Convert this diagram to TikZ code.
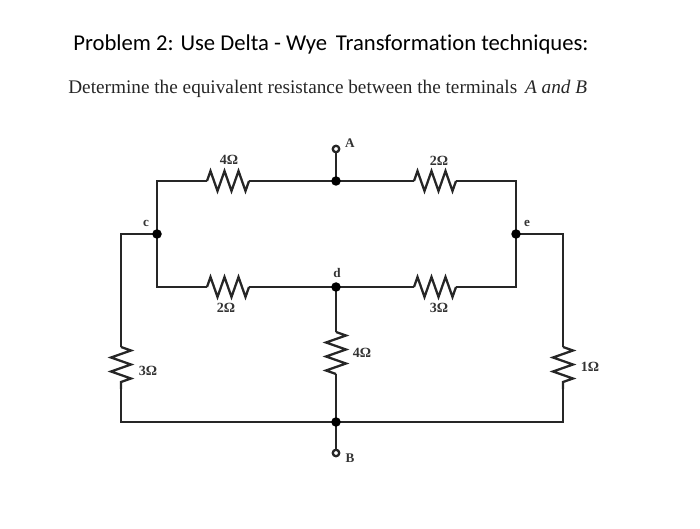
\documentclass[tikz,border=0pt]{standalone}
\usepackage{fontspec}
\setmainfont{Liberation Serif}
\newfontfamily\titlefont[Ligatures=NoCommon]{Carlito}
\usetikzlibrary{decorations.pathmorphing}
\tikzset{
	wire/.style={line width=1.3pt,draw=black!85},
	resistor/.style={wire,decorate,decoration={zigzag,amplitude=0.2cm,segment length=0.28cm}},
	valuelabel/.style={font=\fontsize{8}{9}\selectfont\bfseries,text=black!80,inner sep=0pt},
	termlabel/.style={font=\fontsize{7.5}{9}\selectfont\bfseries,text=black!80,inner sep=0pt}
}
\begin{document}
\begin{tikzpicture}
		\useasboundingbox (0,0) rectangle (14,10.56);
		\node[anchor=west,inner sep=0pt,font=\titlefont\fontsize{12.9}{16}\selectfont] (title) at (1.46,9.68) {Problem 2: Use Delta - Wye\, Transformation techniques:};
		\node[anchor=west,inner sep=0pt,text=black!85,font=\fontsize{10.95}{12}\selectfont] (task) at (1.36,8.78) {Determine the equivalent resistance between the terminals\, \textit{A and B}};
		% junctions and terminals
		\coordinate (A) at (6.72,7.58);
		\coordinate (top) at (6.72,6.94);
		\coordinate (c) at (3.14,5.88);
		\coordinate (d) at (6.72,4.82);
		\coordinate (e) at (10.32,5.88);
		\coordinate (bot) at (6.72,2.12);
		\coordinate (B) at (6.72,1.5);
		% resistor ends
		\coordinate (r1a) at (4.14,6.94);
		\coordinate (r1b) at (4.98,6.94);
		\coordinate (r2a) at (8.28,6.94);
		\coordinate (r2b) at (9.12,6.94);
		\coordinate (r3a) at (4.14,4.82);
		\coordinate (r3b) at (4.98,4.82);
		\coordinate (r4a) at (8.28,4.82);
		\coordinate (r4b) at (9.12,4.82);
		\coordinate (r5a) at (2.42,3.62);
		\coordinate (r5b) at (2.42,2.78);
		\coordinate (r6a) at (6.72,3.92);
		\coordinate (r6b) at (6.72,3.08);
		\coordinate (r7a) at (11.26,3.62);
		\coordinate (r7b) at (11.26,2.78);
		% wires
		\draw[wire] (r1a) -| (c) |- (r3a);
		\draw[wire] (r2b) -| (e) |- (r4b);
		\draw[wire] (r1b) -- (top) -- (r2a);
		\draw[wire] (r3b) -- (d) -- (r4a);
		\draw[wire] (A) -- (top);
		\draw[wire] (d) -- (r6a);
		\draw[wire] (r6b) -- (bot) -- (B);
		\draw[wire] (c) -| (r5a);
		\draw[wire] (e) -| (r7a);
		\draw[wire] (r5b) |- (bot) -| (r7b);
		% resistors
		\draw[resistor] (r1a) -- (r1b);
		\draw[resistor] (r2a) -- (r2b);
		\draw[resistor] (r3a) -- (r3b);
		\draw[resistor] (r4a) -- (r4b);
		\draw[resistor] (r5a) -- (r5b);
		\draw[resistor] (r6a) -- (r6b);
		\draw[resistor] (r7a) -- (r7b);
		% dots
		\fill (top) circle (0.095);
		\fill (c) circle (0.095);
		\fill (d) circle (0.095);
		\fill (e) circle (0.095);
		\fill (bot) circle (0.095);
		\draw[wire,fill=white] (A) circle (0.065);
		\draw[wire,fill=white] (B) circle (0.065);
		% labels
		\node[termlabel] (labA) at (7.0,7.7) {A};
		\node[termlabel] (labB) at (7.0,1.4) {B};
		\node[termlabel] (labc) at (2.92,6.1) {c};
		\node[termlabel] (labd) at (6.74,5.1) {d};
		\node[termlabel] (labe) at (10.54,6.1) {e};
		\node[valuelabel] (val1) at (4.58,7.36) {4Ω};
		\node[valuelabel] (val2) at (8.78,7.34) {2Ω};
		\node[valuelabel] (val3) at (4.52,4.4) {2Ω};
		\node[valuelabel] (val4) at (8.78,4.4) {3Ω};
		\node[valuelabel] (val5) at (2.96,3.14) {3Ω};
		\node[valuelabel] (val6) at (7.24,3.5) {4Ω};
		\node[valuelabel] (val7) at (11.8,3.22) {1Ω};
	\end{tikzpicture}
\end{document}
